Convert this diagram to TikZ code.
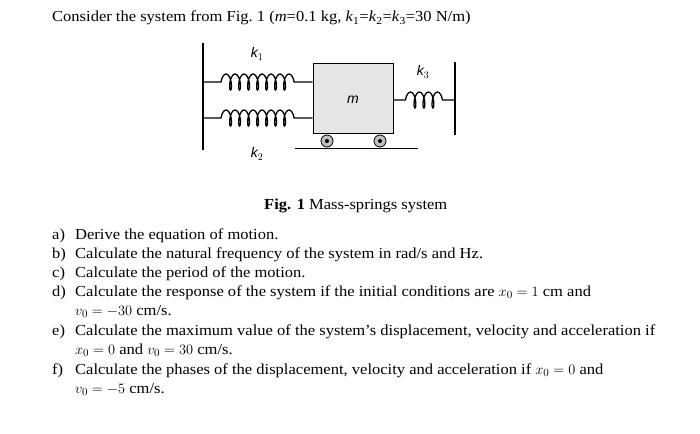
\documentclass[tikz,border=0pt]{standalone}
\usepackage{fontspec}
\setmainfont{Liberation Serif}[FakeStretch=1.08]
\newfontfamily\lab{Liberation Sans}
\usetikzlibrary{decorations.pathmorphing}
\begin{document}
\begin{tikzpicture}[x=1pt,y=-1pt,
  txt/.style={anchor=base west,inner sep=0,font=\fontsize{15.3}{17}\selectfont},
  spr/.style={line width=1.3pt,decorate,decoration={coil,aspect=0.35,segment length=9pt,amplitude=8pt,pre length=18pt,post length=12pt}},
  wall/.style={line width=2pt},
  klab/.style={font=\lab\fontsize{14}{15}\selectfont\itshape,inner sep=0}]
\useasboundingbox (0,0) rectangle (700,433);
\fill[white] (0,0) rectangle (700,433);
% figure
\draw[wall] (203,43) -- (203,150);
\draw[wall] (455,62) -- (455,135);
\node[draw,thick,fill=gray!20,minimum width=80pt,minimum height=70pt,inner sep=0] (m) at (353,98) {};
\node[klab] at (353,100) {m};
\coordinate (w1) at (203,82); \coordinate (w2) at (203,118); \coordinate (w3) at (455,100);
\draw[spr] (w1) -- (w1 -| m.west);
\draw[spr] (w2) -- (w2 -| m.west);
\draw[spr,decoration={pre length=12pt,post length=8pt}] (m.east |- w3) -- (w3);
\foreach \x in {327,380} {\draw[thick,fill=gray!50] (\x,141) circle (6pt); \fill (\x,141) circle (2pt);}
\draw[thick] (295,148) -- (418,148);
\node[klab] at (257,54) {k$_1$};
\node[klab] at (257,154) {k$_2$};
\node[klab] at (423,72) {k$_3$};
% text
\node[txt] at (52,22) {Consider the system from Fig.\ 1 (\textit{m}=0.1 kg, \textit{k}\textsubscript{1}=\textit{k}\textsubscript{2}=\textit{k}\textsubscript{3}=30 N/m)};
\node[txt] at (264,209) {\textbf{Fig. 1} Mass-springs system};
\node[txt] at (52,239) {a)}; \node[txt] at (75,239) {Derive the equation of motion.};
\node[txt] at (52,258) {b)}; \node[txt] at (75,258) {Calculate the natural frequency of the system in rad/s and Hz.};
\node[txt] at (52,277) {c)}; \node[txt] at (75,277) {Calculate the period of the motion.};
\node[txt] at (52,296) {d)};
\node[txt] at (75,296) {Calculate the response of the system if the initial conditions are $x_0=1$ cm and};
\node[txt] at (75,315) {$v_0=-30$ cm/s.};
\node[txt] at (52,335) {e)};
\node[txt] at (75,335) {Calculate the maximum value of the system's displacement, velocity and acceleration if};
\node[txt] at (75,354) {$x_0=0$ and $v_0=30$ cm/s.};
\node[txt] at (52,374) {f)};
\node[txt] at (75,374) {Calculate the phases of the displacement, velocity and acceleration if $x_0=0$ and};
\node[txt] at (75,393) {$v_0=-5$ cm/s.};
\end{tikzpicture}
\end{document}
